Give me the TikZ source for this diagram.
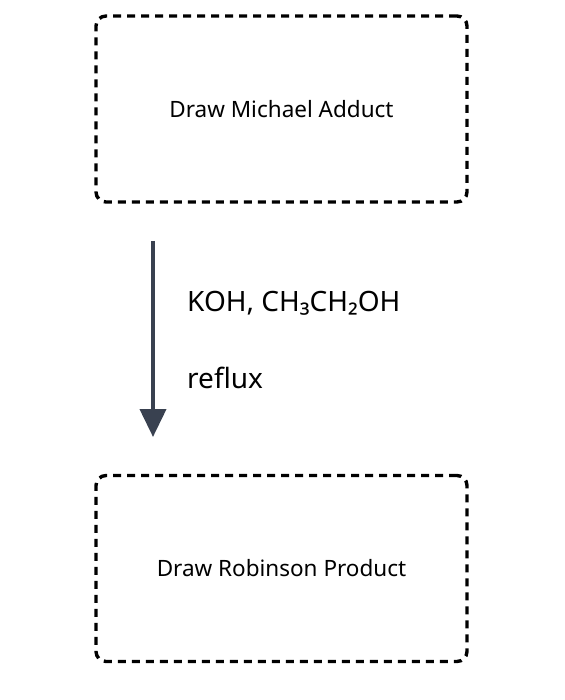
\documentclass[tikz,border=0pt]{standalone}
\usepackage{fontspec}
\setmainfont{Noto Sans}
\usetikzlibrary{arrows.meta}
\definecolor{arrowgray}{HTML}{394150}
\tikzset{
  x=1pt, y=-1pt,
  drawbox/.style={draw=black, line width=3.4pt, dash pattern=on 8pt off 6pt, rounded corners=10pt, minimum width=371pt, minimum height=186pt, inner sep=0pt, font=\fontsize{22.5}{26}\selectfont},
  rxn/.style={draw=arrowgray, line width=4pt, -{Triangle[length=28pt, width=26pt]}},
  reagent/.style={anchor=west, inner sep=0pt, font=\fontsize{28}{32}\selectfont, text=black}
}
\begin{document}
\begin{tikzpicture}
\useasboundingbox (0,0) rectangle (564,700);
\node[drawbox] (top) at (281.5,109) {Draw Michael Adduct};
\node[drawbox] (bot) at (281.5,568.5) {Draw Robinson Product};
\coordinate (a0) at (153,241);
\coordinate (a1) at (153,437);
\draw[rxn] (a0) -- (a1);
\node[reagent] (r1) at (187,303) {KOH, CH₃CH₂OH};
\node[reagent] (r2) at (187,378) {reflux};
\end{tikzpicture}
\end{document}
